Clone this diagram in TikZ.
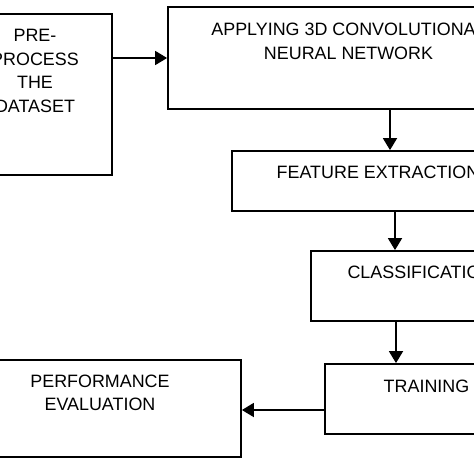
\documentclass[tikz,border=0pt]{standalone}
\usepackage{fontspec}
\setmainfont{Liberation Sans}
\usetikzlibrary{arrows.meta}
\tikzset{
  box/.style={draw=black, line width=1.8pt, rectangle, inner sep=0pt, fill=white},
  lbl/.style={anchor=north, inner sep=0pt, align=center, font=\fontsize{17.9}{23.7}\selectfont},
  arr/.style={draw=black, line width=1.8pt, -{Triangle[length=12pt,width=14pt]}}
}
\begin{document}
\begin{tikzpicture}[x=1pt,y=-1pt]
\useasboundingbox (0,0) rectangle (474,474);
\clip (0,0) rectangle (474,474);
\fill[white] (0,0) rectangle (474,474);
% boxes
\node[box, minimum width=154pt, minimum height=161pt] (pre) at (35,94.5) {};
\node[box, minimum width=361pt, minimum height=102pt] (apply) at (348.5,58) {};
\node[box, minimum width=292pt, minimum height=60pt] (feature) at (378,181) {};
\node[box, minimum width=219pt, minimum height=70pt] (class) at (420.5,286) {};
\node[box, minimum width=203pt, minimum height=70pt] (train) at (426.5,399) {};
\node[box, minimum width=282pt, minimum height=97pt] (perf) at (100,408.5) {};
% labels
\node[lbl] (tpre) at (35,29) {PRE-\\PROCESS\\THE\\DATASET};
\node[lbl] (tapply) at (348.5,23) {APPLYING 3D CONVOLUTIONAL\\NEURAL NETWORK};
\node[lbl] (tfeature) at (378,166) {FEATURE EXTRACTION};
\node[lbl] (tclass) at (420.5,265.5) {CLASSIFICATION};
\node[lbl] (ttrain) at (426.5,380) {TRAINING};
\node[lbl] (tperf) at (100,374.5) {PERFORMANCE\\EVALUATION};
% helper coordinates
\coordinate (x1) at (390,0);
\coordinate (x2) at (395,0);
\coordinate (x3) at (396,0);
\coordinate (y5) at (0,410);
% connectors
\draw[arr] (apply.west -| pre.east) -- (apply.west);
\draw[arr] (apply.south -| x1) -- (feature.north -| x1);
\draw[arr] (feature.south -| x2) -- (class.north -| x2);
\draw[arr] (class.south -| x3) -- (train.north -| x3);
\draw[arr] (train.west |- y5) -- (perf.east |- y5);
\end{tikzpicture}
\end{document}
